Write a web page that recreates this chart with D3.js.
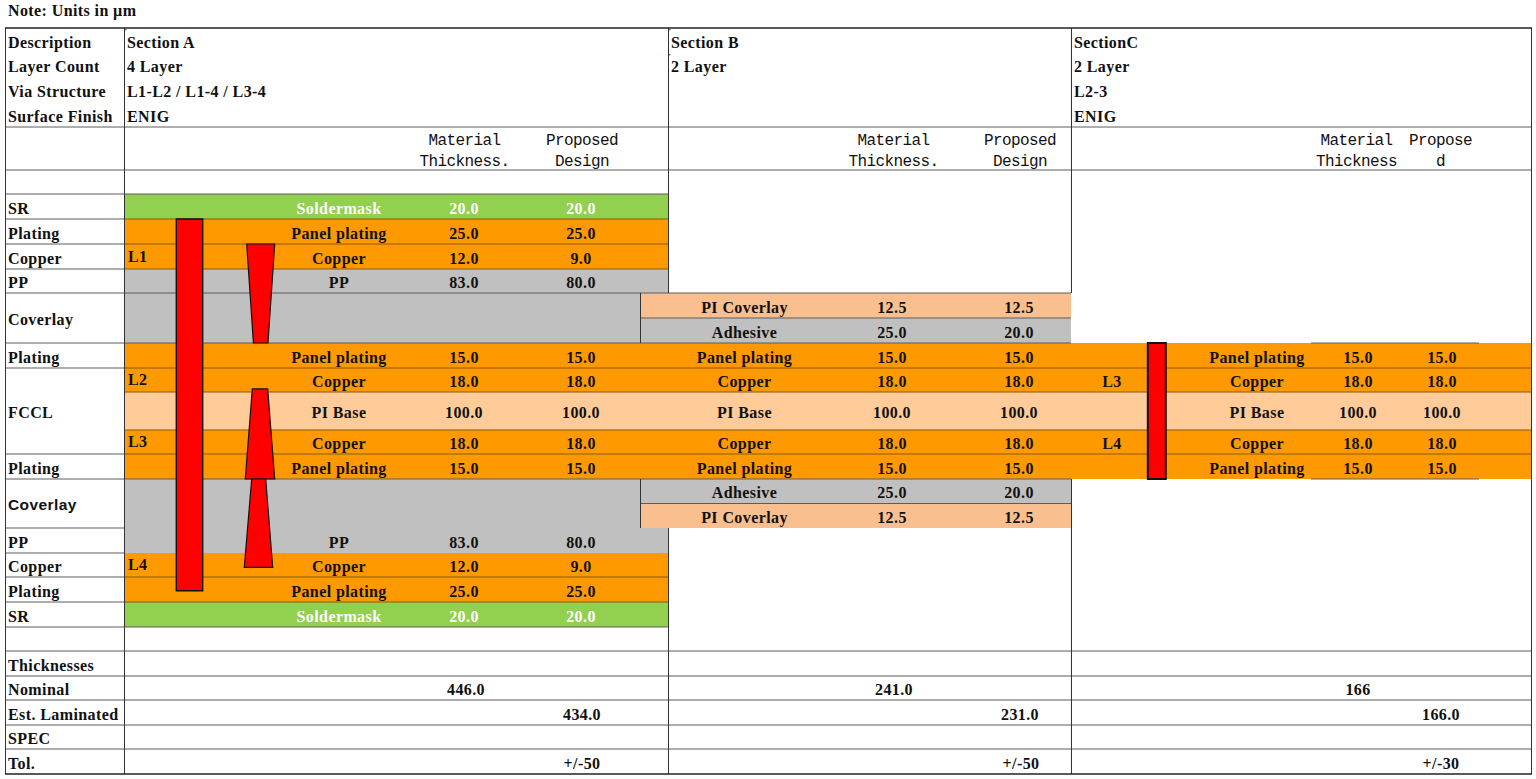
<!DOCTYPE html>
<html><head><meta charset="utf-8">
<script src="https://cdn.jsdelivr.net/npm/d3@7"></script>
<style>html,body{margin:0;background:#fff;overflow:hidden}svg{display:block}
text{font-family:"Liberation Serif",serif;font-weight:700;font-size:16px;letter-spacing:.4px;fill:#111;text-anchor:middle}
</style></head><body><svg width="1536" height="779"></svg>
<script>
/* ---------- data ---------- */
const note = "Note: Units in µm";
const rowLabels = ["Description","Layer Count","Via Structure","Surface Finish","","","SR","Plating","Copper","PP","Coverlay","","Plating","","FCCL","","Plating","Coverlay","","PP","Copper","Plating","SR","","Thicknesses","Nominal","Est. Laminated","SPEC","Tol."];
const descA = ["Section A","4 Layer","L1-L2 / L1-4 / L3-4","ENIG"];
const descB = ["Section B","2 Layer","",""];
const descC = ["SectionC","2 Layer","L2-3","ENIG"];
const rowsA = [6,7,8,9,12,13,14,15,16,19,20,21,22];
const namesA = ["Soldermask","Panel plating","Copper","PP","Panel plating","Copper","PI Base","Copper","Panel plating","PP","Copper","Panel plating","Soldermask"];
const materialA = ["20.0","25.0","12.0","83.0","15.0","18.0","100.0","18.0","15.0","83.0","12.0","25.0","20.0"];
const proposedA = ["20.0","25.0","9.0","80.0","15.0","18.0","100.0","18.0","15.0","80.0","9.0","25.0","20.0"];
const rowsB = [10,11,12,13,14,15,16,17,18];
const namesB = ["PI Coverlay","Adhesive","Panel plating","Copper","PI Base","Copper","Panel plating","Adhesive","PI Coverlay"];
const materialB = ["12.5","25.0","15.0","18.0","100.0","18.0","15.0","25.0","12.5"];
const proposedB = ["12.5","20.0","15.0","18.0","100.0","18.0","15.0","20.0","12.5"];
const rowsC = [12,13,14,15,16];
const namesC = ["Panel plating","Copper","PI Base","Copper","Panel plating"];
const materialC = ["15.0","18.0","100.0","18.0","15.0"];
const proposedC = ["15.0","18.0","100.0","18.0","15.0"];
const layerTagsA = [[8,"L1"],[13,"L2"],[15,"L3"],[20,"L4"]];
const layerTagsC = [[13,"L3"],[15,"L4"]];
const headMaterial = ["Material","Thickness."];
const headProposed = ["Proposed","Design"];
const headMaterialC = ["Material","Thickness"];
const headProposedC = ["Propose","d"];
const nominal = ["446.0","241.0","166"];
const laminated = ["434.0","231.0","166.0"];
const tolerance = ["+/-50","+/-50","+/-30"];

/* ---------- layout ---------- */
const rowEdges = [28,53,77,102,127,170,194,219,244,269,293,318,343,368,392,430,454,479,503.5,528,553,577,602,627,651,676,700,725,749,774];
const y = d3.scaleLinear().domain(d3.range(rowEdges.length)).range(rowEdges);
const x = d3.scaleOrdinal()
  .domain(["L","lab","A","B","C","R","covEnd","Atxt","Btxt","Ctxt","Cm","Cp"])
  .range([5,8,124,668,1071,1531,640,127,671,1074,1311,1479]);
const col = {A:{name:339,m:464,p:581,hm:464.5,hp:582,nom:466,lam:582,tol:582},
             B:{name:744.5,m:892,p:1019,hm:893.5,hp:1020,nom:894,lam:1020,tol:1021},
             C:{name:1257,m:1358,p:1442,hm:1356.5,hp:1440.5,nom:1358,lam:1441,tol:1441}};
const colors = {SR:"#92D050",Cu:"#FF9900",PP:"#C0C0C0",PI:"#FFCC99",Cov:"#FABF8F"};
const fills = [
 [6,7,"A","B","SR"],[7,9,"A","B","Cu"],[9,10,"A","B","PP"],[10,12,"A","covEnd","PP"],
 [10,11,"covEnd","C","Cov"],[11,12,"covEnd","C","PP"],
 [12,14,"A","R","Cu"],[14,15,"A","R","PI"],[15,17,"A","R","Cu"],
 [17,19,"A","covEnd","PP"],[17,18,"covEnd","C","PP"],[18,19,"covEnd","C","Cov"],
 [19,20,"A","B","PP"],[20,22,"A","B","Cu"],[22,23,"A","B","SR"]];
const GREY="#5c5c5c", BROWN="#8a5a0a";
const hLines = [
 [4,"L","R",GREY],[5,"L","R",GREY],
 [6,"L","B",GREY],
 [7,"L","A",GREY],[7,"A","B",BROWN],[8,"L","A",GREY],[8,"A","B",BROWN],[9,"L","A",GREY],[9,"A","B",BROWN],
 [10,"L","C",GREY],[11,"covEnd","C",GREY],[12,"L","C",GREY],[12,"Cm","Cp",GREY],
 [13,"L","A",GREY],[13,"A","R",BROWN],[14,"A","R",BROWN],[15,"A","R",BROWN],[16,"L","A",GREY],[16,"A","R",BROWN],
 [17,"L","C",GREY],[17,"Cm","Cp",GREY],[18,"covEnd","C",GREY],
 [19,"L","A",GREY],[20,"L","A",GREY],
 [21,"L","A",GREY],[21,"A","B",BROWN],[22,"L","A",GREY],[22,"A","B",BROWN],[23,"L","B",GREY],
 [24,"L","R",GREY],[25,"L","R",GREY],[26,"L","R",GREY],[27,"L","R",GREY],[28,"L","R",GREY]];
const vLines = [["L",0,29],["A",0,29],["B",0,10],["B",19,29],["C",0,10],["C",17,29],["R",0,29],["covEnd",10,12],["covEnd",17,19]];
const vias = [
 {t:7,    b:21.55, cxT:189.5, cxB:189.5, wT:13.2, wB:13.2, sw:1.4},
 {t:8,    b:12,    cxT:260.7, cxB:260.7, wT:14,   wB:7.3,  sw:1.2},
 {t:13.87,b:17,    cxT:260,   cxB:260,   wT:7.7,  wB:14.7, sw:1.2},
 {t:17,   b:20.6,  cxT:258.7, cxB:258.5, wT:7,    wB:14.2, sw:1.2},
 {t:12,   b:17,    cxT:1156.8,cxB:1156.8,wT:9,    wB:9,    sw:2}];

const svg = d3.select("svg");
const mid = r => (y(r)+y(r+1))/2;
const T = 7;

svg.append("g").selectAll("rect").data(fills).join("rect")
  .attr("x",d=>x(d[2])).attr("width",d=>x(d[3])-x(d[2]))
  .attr("y",d=>y(d[0])).attr("height",d=>y(d[1])-y(d[0])).attr("fill",d=>colors[d[4]]);

svg.append("g").selectAll("line").data(hLines).join("line")
  .attr("x1",d=>x(d[1])).attr("x2",d=>x(d[2])).attr("y1",d=>y(d[0])).attr("y2",d=>y(d[0]))
  .attr("stroke",d=>d[3]).attr("stroke-width",1);
svg.append("g").selectAll("line").data(vLines).join("line")
  .attr("x1",d=>x(d[0])+.5).attr("x2",d=>x(d[0])+.5).attr("y1",d=>y(d[1])).attr("y2",d=>y(d[2]))
  .attr("stroke","#333").attr("stroke-width",1);
svg.append("g").selectAll("line").data([0,29]).join("line")
  .attr("x1",x("L")).attr("x2",x("R")+1).attr("y1",d=>y(d)).attr("y2",d=>y(d))
  .attr("stroke","#222").attr("stroke-width",1.6);

svg.append("g").selectAll("path").data([["A",0],["B",0],["B",1]]).join("path")
  .attr("d",d=>d3.line()([[x(d[0])+1,y(d[1])+1],[x(d[0])+3,y(d[1])+1],[x(d[0])+1,y(d[1])+3]]))
  .attr("fill","#2e9e3a");

const vl = d3.line();
svg.append("g").selectAll("path").data(vias).join("path")
  .attr("d",d=>vl([[d.cxT-d.wT,y(d.t)],[d.cxT+d.wT,y(d.t)],[d.cxB+d.wB,y(d.b)],[d.cxB-d.wB,y(d.b)]])+"Z")
  .attr("fill","#FF0000").attr("stroke","#111").attr("stroke-width",d=>d.sw);

function txt(g,data,fx,fy,str,opts={}){
  const s=g.selectAll(null).data(data).join("text").attr("x",fx).attr("y",fy).text(str);
  if(opts.anchor) s.style("text-anchor",opts.anchor);
  if(opts.font) s.style("font-family",opts.font);
  if(opts.weight) s.style("font-weight",opts.weight);
  if(opts.spacing!=null) s.style("letter-spacing",opts.spacing);
  if(opts.size) s.style("font-size",opts.size);
  return s;
}
const g = svg.append("g");
txt(g,[note],8,16,d=>d,{anchor:"start"});

const labelData = rowLabels.map((t,i)=>({t,i})).filter(d=>d.t);
const labelRow = d=> d.i===10||d.i===17 ? y(d.i+1) : mid(d.i);
txt(g,labelData.filter(d=>d.i!==17),x("lab"),d=>labelRow(d)+T,d=>d.t,{anchor:"start"});
txt(g,labelData.filter(d=>d.i===17),x("lab"),d=>labelRow(d)+T-.5,d=>d.t,{anchor:"start",font:'"Liberation Sans",sans-serif',size:"15.5px",spacing:".4px",weight:600});

[[descA,"Atxt"],[descB,"Btxt"],[descC,"Ctxt"]].forEach(([a,k])=>{
  txt(g,a.map((t,i)=>({t,i})).filter(d=>d.t),x(k),d=>mid(d.i)+T,d=>d.t,{anchor:"start"});
});

function section(c,rows,names,mat,prop){
  const items=rows.map((r,i)=>({r,n:names[i],m:mat[i],p:prop[i]}));
  const clr=d=>d.n==="Soldermask"?"#fff":"#111";
  [["n",c.name],["m",c.m],["p",c.p]].forEach(([k,cx])=>{
    txt(g,items,cx,d=>mid(d.r)+T,d=>d[k]).style("fill",clr);
  });
}
section(col.A,rowsA,namesA,materialA,proposedA);
section(col.B,rowsB,namesB,materialB,proposedB);
section(col.C,rowsC,namesC,materialC,proposedC);

txt(g,layerTagsA,x("Atxt")+1,d=>mid(d[0])+T-2,d=>d[1],{anchor:"start"});
txt(g,layerTagsC,1112,d=>mid(d[0])+T,d=>d[1]);

const mono={font:'"Liberation Mono",monospace',weight:400,spacing:"-.6px",size:"16px"};
[[col.A,headMaterial,headProposed],[col.B,headMaterial,headProposed],[col.C,headMaterialC,headProposedC]].forEach(([c,hm,hp])=>{
  const base=[145,165.5];
  txt(g,hm,c.hm,(d,i)=>base[i],d=>d,mono);
  txt(g,hp,c.hp,(d,i)=>base[i],d=>d,mono);
});

const cols=[col.A,col.B,col.C];
txt(g,nominal,(d,i)=>cols[i].nom,mid(25)+T,d=>d);
txt(g,laminated,(d,i)=>cols[i].lam,mid(26)+T,d=>d);
txt(g,tolerance,(d,i)=>cols[i].tol,mid(28)+T,d=>d);
</script></body></html>
